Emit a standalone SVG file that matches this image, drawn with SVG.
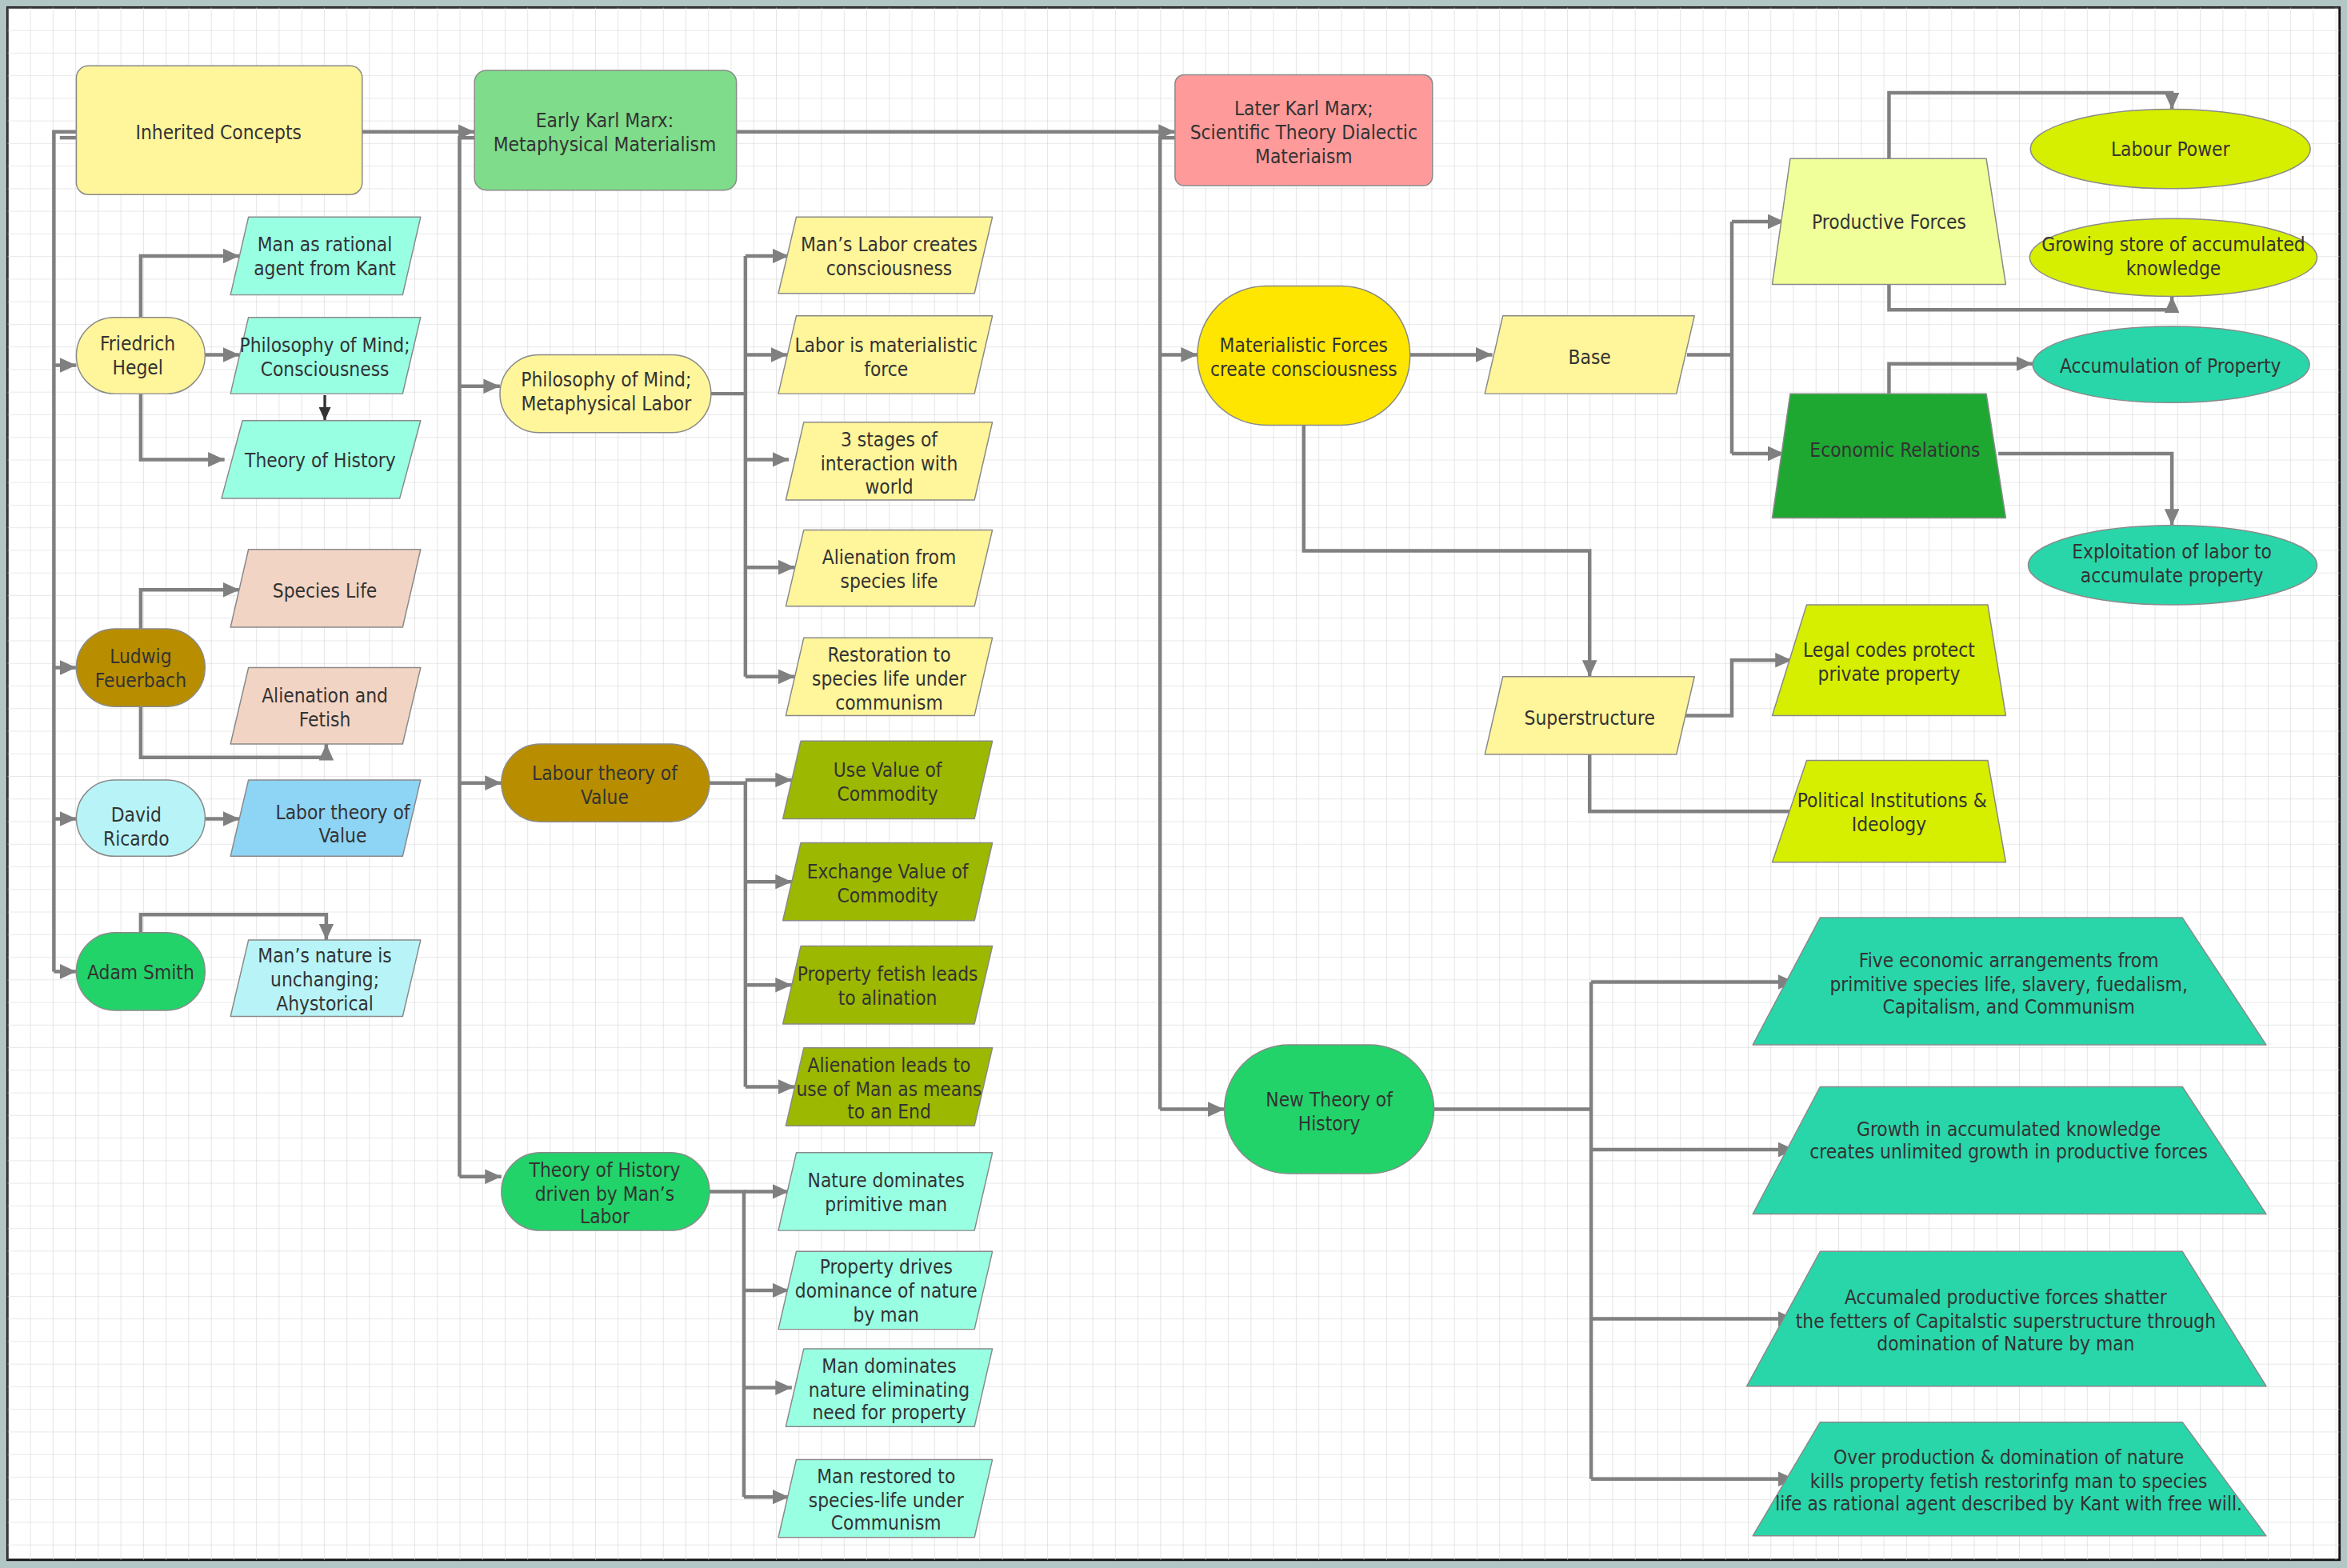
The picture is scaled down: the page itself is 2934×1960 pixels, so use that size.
<svg xmlns="http://www.w3.org/2000/svg" width="2934" height="1960" viewBox="0 0 2934 1960">
<defs>
<pattern id="grid" width="15.1" height="15.1" patternUnits="userSpaceOnUse" x="5" y="5"><path d="M15.1 0H0V15.1" fill="none" stroke="#d2d2d2" stroke-width="0.6"/></pattern>
<marker id="ah" markerUnits="userSpaceOnUse" markerWidth="12" markerHeight="10" refX="11" refY="5" orient="auto"><path d="M0,0 L11,5 L0,10 Z" fill="#808080"/></marker>
<marker id="ahd" markerUnits="userSpaceOnUse" markerWidth="10" markerHeight="8" refX="9" refY="4" orient="auto"><path d="M0,0 L9,4 L0,8 Z" fill="#333"/></marker>
<style>
.n{stroke:#8a8a8a;stroke-width:0.8;stroke-linejoin:round}
text{font-family:"DejaVu Sans Condensed","DejaVu Sans",sans-serif;font-size:13px;fill:#333;text-anchor:middle}
.c path{fill:none;stroke:#808080;stroke-width:2.4;marker-end:url(#ah)}
.c path.nm{marker-end:none}
.y{fill:#fff59a}.aq{fill:#99ffe3}.pk{fill:#f2d4c4}.gd{fill:#b88e00}.lc{fill:#b8f4f7}.bl{fill:#8ed4f5}.gr{fill:#22d36a}.ol{fill:#9cb800}.tl{fill:#29d6aa}.lg{fill:#d6ee00}
</style>
</defs>
<g transform="scale(1.8712)">
<rect x="0" y="0" width="1568" height="1048" fill="#b3c6c6"/>
<rect x="5" y="5" width="1558" height="1037" fill="#fff" stroke="#111" stroke-width="1.5"/>
<rect x="5" y="5" width="1558" height="1037" fill="url(#grid)"/>

<g class="c">
<path class="nm" d="M51,88 H36 V649"/>
<path class="nm" d="M51,92 H40"/>
<path d="M36,244 H51"/><path d="M36,446 H51"/><path d="M36,547 H51"/><path d="M36,649 H51"/>
<path d="M242,88 H317"/>
<path class="nm" d="M317,92 H307 V786"/>
<path d="M307,258 H334"/><path d="M307,523 H335"/><path d="M307,786 H335"/>
<path d="M492,88 H785"/>
<path class="nm" d="M785,92 H775 V741"/>
<path d="M775,237 H800"/><path d="M775,741 H818"/>
<path d="M94,212 V171 H160"/>
<path d="M137,237 H160"/>
<path d="M94,263 V307 H150"/>
<path d="M94,420 V394 H160"/>
<path d="M94,472 V506 H218 V497"/>
<path d="M137,547 H160"/>
<path d="M94,623 V611 H218 V628"/>
<path class="nm" d="M475,263 H498 V452"/>
<path class="nm" d="M498,171 V263"/>
<path d="M498,171 H527"/><path d="M498,237 H526"/><path d="M498,307 H527"/><path d="M498,379 H531"/><path d="M498,452 H531"/>
<path class="nm" d="M474,523 H498 V726"/>
<path d="M498,521 H529"/><path d="M498,589 H529"/><path d="M498,658 H529"/><path d="M498,726 H531"/>
<path class="nm" d="M474,796 H497 V1000"/>
<path d="M497,796 H527"/><path d="M497,862 H527"/><path d="M497,927 H529"/><path d="M497,1000 H527"/>
<path d="M942,237 H997"/>
<path d="M871,284 V368 H1062 V452"/>
<path class="nm" d="M1127,237 H1157"/>
<path class="nm" d="M1157,148 V303"/>
<path d="M1157,148 H1192"/><path d="M1157,303 H1192"/>
<path d="M1262,106 V62 H1451 V73"/>
<path d="M1262,190 V207 H1451 V198"/>
<path d="M1262,263 V243 H1358"/>
<path d="M1335,303 H1451 V351"/>
<path d="M1125,478 H1157 V441 H1197"/>
<path d="M1062,504 V542 H1225"/>
<path class="nm" d="M958,741 H1063"/>
<path class="nm" d="M1063,656 V988"/>
<path d="M1063,656 H1199"/><path d="M1063,768 H1199"/><path d="M1063,881 H1199"/><path d="M1063,988 H1199"/>
<path d="M217,264 V281" style="stroke:#333;stroke-width:1.8;marker-end:url(#ahd)"/>
</g>

<g id="inherited"><rect class="n y" x="51" y="44" width="191" height="86" rx="8"/><text x="146" y="93">Inherited Concepts</text></g>
<g id="early"><rect class="n" fill="#7edc8a" x="317" y="47" width="175" height="80" rx="8"/><text x="404" y="85">Early Karl Marx:</text><text x="404" y="101">Metaphysical Materialism</text></g>
<g id="later"><rect class="n" fill="#ff9a9a" x="785" y="50" width="172" height="74" rx="6"/><text x="871" y="77">Later Karl Marx;</text><text x="871" y="93">Scientific Theory Dialectic</text><text x="871" y="109">Materiaism</text></g>

<g id="hegel"><rect class="n y" x="51" y="212" width="86" height="51" rx="25.5"/><text x="92" y="234">Friedrich</text><text x="92" y="250">Hegel</text></g>
<g id="kant"><polygon class="n aq" points="166,145 281,145 269,197 154,197"/><text x="217" y="168">Man as rational</text><text x="217" y="184">agent from Kant</text></g>
<g id="pmc"><polygon class="n aq" points="166,212 281,212 269,263 154,263"/><text x="217" y="235">Philosophy of Mind;</text><text x="217" y="251">Consciousness</text></g>
<g id="toh"><polygon class="n aq" points="162,281 281,281 267,333 148,333"/><text x="214" y="312">Theory of History</text></g>
<g id="feuer"><rect class="n gd" x="51" y="420" width="86" height="52" rx="26"/><text x="94" y="443">Ludwig</text><text x="94" y="459">Feuerbach</text></g>
<g id="species"><polygon class="n pk" points="166,367 281,367 269,419 154,419"/><text x="217" y="399">Species Life</text></g>
<g id="alien"><polygon class="n pk" points="166,446 281,446 269,497 154,497"/><text x="217" y="469">Alienation and</text><text x="217" y="485">Fetish</text></g>
<g id="ricardo"><rect class="n lc" x="51" y="521" width="86" height="51" rx="25.5"/><text x="91" y="549">David</text><text x="91" y="565">Ricardo</text></g>
<g id="ltv1"><polygon class="n bl" points="166,521 281,521 269,572 154,572"/><text x="229" y="547">Labor theory of</text><text x="229" y="563">Value</text></g>
<g id="smith"><rect class="n gr" x="51" y="623" width="86" height="52" rx="26"/><text x="94" y="654">Adam Smith</text></g>
<g id="nature"><polygon class="n lc" points="166,628 281,628 269,679 154,679"/><text x="217" y="643">Man’s nature is</text><text x="217" y="659">unchanging;</text><text x="217" y="675">Ahystorical</text></g>

<g id="pmml"><rect class="n y" x="334" y="237" width="141" height="52" rx="26"/><text x="405" y="258">Philosophy of Mind;</text><text x="405" y="274">Metaphysical Labor</text></g>
<g id="ltv2"><rect class="n gd" x="335" y="497" width="139" height="52" rx="26"/><text x="404" y="521">Labour theory of</text><text x="404" y="537">Value</text></g>
<g id="tohml"><rect class="n gr" x="335" y="770" width="139" height="52" rx="26"/><text x="404" y="786">Theory of History</text><text x="404" y="802">driven by Man’s</text><text x="404" y="817">Labor</text></g>

<g id="c1"><polygon class="n y" points="532,145 663,145 651,196 520,196"/><text x="594" y="168">Man’s Labor creates</text><text x="594" y="184">consciousness</text></g>
<g id="c2"><polygon class="n y" points="532,211 663,211 651,263 520,263"/><text x="592" y="235">Labor is materialistic</text><text x="592" y="251">force</text></g>
<g id="c3"><polygon class="n y" points="537,282 663,282 651,334 525,334"/><text x="594" y="298">3 stages of</text><text x="594" y="314">interaction with</text><text x="594" y="330">world</text></g>
<g id="c4"><polygon class="n y" points="537,354 663,354 651,405 525,405"/><text x="594" y="377">Alienation from</text><text x="594" y="393">species life</text></g>
<g id="c5"><polygon class="n y" points="537,426 663,426 651,478 525,478"/><text x="594" y="442">Restoration to</text><text x="594" y="458">species life under</text><text x="594" y="474">communism</text></g>
<g id="c6"><polygon class="n ol" points="535,495 663,495 651,547 523,547"/><text x="593" y="519">Use Value of</text><text x="593" y="535">Commodity</text></g>
<g id="c7"><polygon class="n ol" points="535,563 663,563 651,615 523,615"/><text x="593" y="587">Exchange Value of</text><text x="593" y="603">Commodity</text></g>
<g id="c8"><polygon class="n ol" points="535,632 663,632 651,684 523,684"/><text x="593" y="655">Property fetish leads</text><text x="593" y="671">to alination</text></g>
<g id="c9"><polygon class="n ol" points="537,700 663,700 651,752 525,752"/><text x="594" y="716">Alienation leads to</text><text x="594" y="732">use of Man as means</text><text x="594" y="747">to an End</text></g>
<g id="c10"><polygon class="n aq" points="532,770 663,770 651,822 520,822"/><text x="592" y="793">Nature dominates</text><text x="592" y="809">primitive man</text></g>
<g id="c11"><polygon class="n aq" points="532,836 663,836 651,888 520,888"/><text x="592" y="851">Property drives</text><text x="592" y="867">dominance of nature</text><text x="592" y="883">by man</text></g>
<g id="c12"><polygon class="n aq" points="537,901 663,901 651,953 525,953"/><text x="594" y="917">Man dominates</text><text x="594" y="933">nature eliminating</text><text x="594" y="948">need for property</text></g>
<g id="c13"><polygon class="n aq" points="532,975 663,975 651,1027 520,1027"/><text x="592" y="991">Man restored to</text><text x="592" y="1007">species-life under</text><text x="592" y="1022">Communism</text></g>

<g id="matforces"><rect class="n" fill="#ffe600" x="800" y="191" width="142" height="93" rx="46"/><text x="871" y="235">Materialistic Forces</text><text x="871" y="251">create consciousness</text></g>
<g id="newtheory"><rect class="n gr" x="818" y="698" width="140" height="86" rx="43"/><text x="888" y="739">New Theory of</text><text x="888" y="755">History</text></g>
<g id="base"><polygon class="n y" points="1004,211 1132,211 1120,263 992,263"/><text x="1062" y="243">Base</text></g>
<g id="superstructure"><polygon class="n y" points="1004,452 1132,452 1120,504 992,504"/><text x="1062" y="484">Superstructure</text></g>
<g id="prodforces"><polygon class="n" fill="#f0ff9a" points="1196,106 1327,106 1340,190 1184,190"/><text x="1262" y="153">Productive Forces</text></g>
<g id="econrel"><polygon class="n" fill="#1ea832" points="1196,263 1327,263 1340,346 1184,346"/><text x="1266" y="305">Economic Relations</text></g>
<g id="labourpower"><ellipse class="n lg" cx="1450" cy="99.5" rx="93.5" ry="26.5"/><text x="1450" y="104">Labour Power</text></g>
<g id="growing"><ellipse class="n lg" cx="1452" cy="172" rx="96" ry="26"/><text x="1452" y="168">Growing store of accumulated</text><text x="1452" y="184">knowledge</text></g>
<g id="accum"><ellipse class="n tl" cx="1450.5" cy="243.5" rx="92.5" ry="25.5"/><text x="1450" y="249">Accumulation of Property</text></g>
<g id="exploit"><ellipse class="n tl" cx="1451.5" cy="377.5" rx="96.5" ry="26.5"/><text x="1451" y="373">Exploitation of labor to</text><text x="1451" y="389">accumulate property</text></g>
<g id="legal"><polygon class="n lg" points="1207,404 1328,404 1340,478 1184,478"/><text x="1262" y="439">Legal codes protect</text><text x="1262" y="455">private property</text></g>
<g id="political"><polygon class="n lg" points="1207,508 1328,508 1340,576 1184,576"/><text x="1264" y="539">Political Institutions &amp;</text><text x="1262" y="555">Ideology</text></g>

<g id="t1"><polygon class="n tl" points="1216,613 1458,613 1514,698 1171,698"/><text x="1342" y="646">Five economic arrangements from</text><text x="1342" y="662">primitive species life, slavery, fuedalism,</text><text x="1342" y="677">Capitalism, and Communism</text></g>
<g id="t2"><polygon class="n tl" points="1216,726 1458,726 1514,811 1171,811"/><text x="1342" y="759">Growth in accumulated knowledge</text><text x="1342" y="774">creates unlimited growth in productive forces</text></g>
<g id="t3"><polygon class="n tl" points="1216,836 1458,836 1514,926 1167,926"/><text x="1340" y="871">Accumaled productive forces shatter</text><text x="1340" y="887">the fetters of Capitalstic superstructure through</text><text x="1340" y="902">domination of Nature by man</text></g>
<g id="t4"><polygon class="n tl" points="1216,950 1458,950 1514,1026 1171,1026"/><text x="1342" y="978">Over production &amp; domination of nature</text><text x="1342" y="994">kills property fetish restorinfg man to species</text><text x="1342" y="1009">life as rational agent described by Kant with free will.</text></g>
</g>
</svg>
